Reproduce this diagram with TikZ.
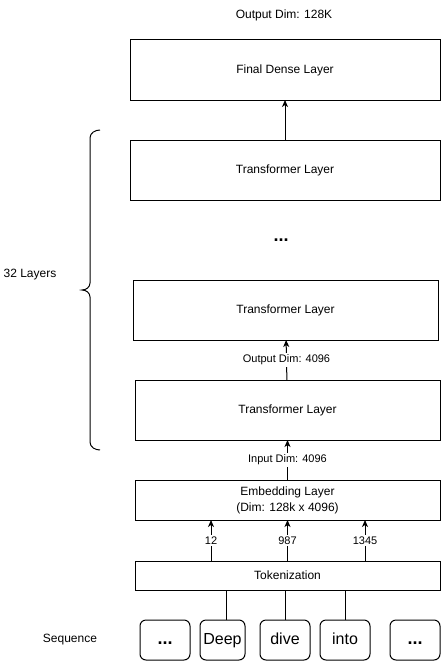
\documentclass[tikz,border=0pt]{standalone}
\usepackage{fontspec}
\setmainfont{Liberation Sans}
\usetikzlibrary{arrows.meta, positioning, calc}
\tikzset{%
	layer/.style={draw, rectangle, minimum width=310pt, minimum height=60pt, inner sep=0pt,%
		outer sep=0pt, line width=1pt, align=center, font=\fontsize{12}{16}\selectfont},
	seqbox/.style={draw, rectangle, rounded corners=6pt, minimum width=50pt, minimum height=40pt,%
		inner sep=0pt, outer sep=0pt, line width=1pt, text height=11.5pt, text depth=3.5pt,%
		font=\fontsize{16}{18}\selectfont},
	connector/.style={line width=1pt},
	sel/.style={-{Stealth[length=7pt,width=6pt,inset=2pt]}, line width=1pt},
	dim/.style={fill=white, inner sep=1.5pt, font=\fontsize{11}{13}\selectfont},
	textnode/.style={inner sep=0pt, font=\fontsize{12}{14}\selectfont},
	dots/.style={inner sep=0pt, font=\bfseries\fontsize{18}{20}\selectfont}
}
\begin{document}
\begin{tikzpicture}[x=1pt, y=-1pt, node distance=40pt]
		\useasboundingbox (0,0) rectangle (441,661);
		\node[layer] (final) at (285,70) {Final Dense Layer};
		\node[textnode] (out) at (284,15) {Output Dim: 128K};
		\node[layer] (t1) [below=of final] {Transformer Layer};
		\node[dots] (mid) at (281,240) {...};
		\node[layer, minimum width=305pt] (t2) [below=80pt of t1, xshift=0.5pt] {Transformer Layer};
		\node[layer, minimum width=305pt] (t3) [below=of t2, xshift=2pt] {Transformer Layer};
		\node[layer, minimum width=305pt, minimum height=40pt] (emb) [below=of t3] {Embedding Layer\\(Dim: 128k x 4096)};
		\node[layer, minimum width=305pt, minimum height=29pt] (tok) [below=41pt of emb] {Tokenization};
		\node[seqbox] (dive) [below=30pt of tok, xshift=-2.5pt] {dive};
		\node[seqbox, minimum width=45pt] (deep) [left=15pt of dive] {Deep};
		\node[seqbox, font=\bfseries\fontsize{18}{20}\selectfont] (pre) [left=10pt of deep] {...};
		\node[seqbox] (into) [right=10pt of dive] {into};
		\node[seqbox, font=\bfseries\fontsize{18}{20}\selectfont] (post) [right=20pt of into] {...};
		\node[textnode] (layers) at (30,275) {32 Layers};
		\node[textnode] (seq) at (70,640) {Sequence};
		\draw [sel] (t1) to (final);
		\draw [sel] (t3) to node[dim]{Output Dim: 4096} (t2);
		\draw [sel] (emb) to node[dim]{Input Dim: 4096} (t3.south -| emb.north);
		\foreach \dx/\tokid in {-76.5/12, 0/987, 77.5/1345}
			\draw [sel] ([xshift=\dx pt]tok.north) to node[dim]{\tokid} ([xshift=\dx pt]emb.south);
		\draw [connector] ([xshift=3.5pt]deep.north) to ([xshift=3.5pt]deep.north |- tok.south);
		\draw [connector] (dive) to (dive.north |- tok.south);
		\draw [connector] (into) to (into.north |- tok.south);
		% brace round the transformer stack
		\draw [connector] (100,130) to[out=180, in=90] (90,138) -- (90,283)
			to[out=-90, in=0] (82,290) to[out=0, in=90] (90,297) -- (90,442)
			to[out=-90, in=180] (100,450);
	\end{tikzpicture}
\end{document}
